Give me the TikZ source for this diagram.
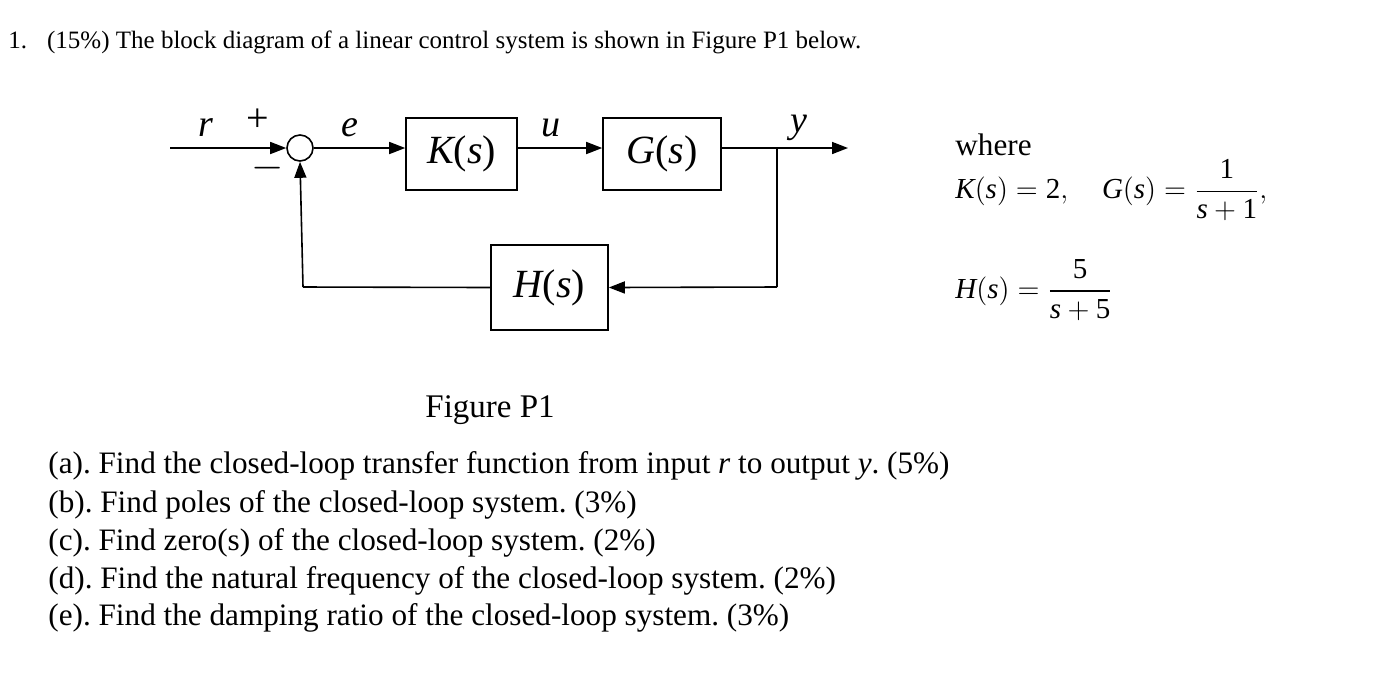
\documentclass[tikz,border=0pt]{standalone}
\usepackage{amsmath}
\usepackage{fontspec}
\setmainfont{Liberation Serif}
\usetikzlibrary{arrows.meta}
\newcommand{\iv}[1]{\text{\itshape #1}}
\frenchspacing
\begin{document}
\begin{tikzpicture}[x=0.5pt,y=-0.5pt,
  blk/.style={draw,line width=0.8pt,minimum width=56pt,minimum height=36pt,inner sep=0pt,font=\fontsize{20}{22}\selectfont},
  sig/.style={line width=0.8pt,-{Triangle[length=8pt,width=6pt]}},
  ln/.style={line width=0.8pt},
  lab/.style={font=\fontsize{19}{22}\selectfont\itshape},
  txt/.style={anchor=west,font=\fontsize{12.5}{14}\selectfont,inner sep=0pt},
  qtxt/.style={anchor=west,font=\fontsize{15.6}{18}\selectfont,inner sep=0pt}]
\useasboundingbox (0,0) rectangle (1374,682);
\node[txt] (title) at (8,42) {1.\hspace{0.8em}(15\%) The block diagram of a linear control system is shown in Figure P1 below.};
\coordinate (in) at (170,148);
\node[draw,circle,line width=0.8pt,minimum size=13pt,inner sep=0pt] (sum) at (300,148) {};
\node[blk,minimum width=55.5pt] (K) at (461.5,154) {\iv{K}(\iv{s})};
\node[blk,minimum width=59pt] (G) at (662,154) {\iv{G}(\iv{s})};
\node[blk,minimum width=58.5pt,minimum height=42.5pt] (H) at (549.5,287.5) {\iv{H}(\iv{s})};
\coordinate (out) at (848,148);
\coordinate (br) at (777,148);
\coordinate (c1) at (777,287);
\coordinate (c2) at (303,287);
\draw[sig] (in) -- (sum.west);
\draw[sig] (sum.east) -- (K.west |- sum.east);
\draw[sig] (K.east |- sum.east) -- (G.west |- sum.east);
\draw[sig] (G.east |- sum.east) -- (out);
\draw[ln] (br) -- (c1);
\draw[sig] (c1) -- (H.east);
\draw[ln] (H.west) -- (c2);
\draw[sig] (c2) -- (sum.south);
\node[lab] (r) at (206,128) {r};
\node[font=\fontsize{20}{22}\selectfont] (plus) at (258,120) {+};
\node[font=\fontsize{20}{22}\selectfont] (minus) at (268,168) {$-$};
\node[lab] (e) at (350,128) {e};
\node[lab] (u) at (551,128) {u};
\node[lab] (y) at (799,128) {y};
\node[qtxt,font=\fontsize{16.5}{18}\selectfont] (cap) at (425,410) {Figure P1};
\node[qtxt] (where) at (955,145) {where};
\node[qtxt,font=\fontsize{14.5}{17}\selectfont] (KG) at (955,190) {$\iv{K}(\iv{s}) = \text{2},\quad \iv{G}(\iv{s}) = \dfrac{\text{1}}{\iv{s}+\text{1}},$};
\node[qtxt,font=\fontsize{14.5}{17}\selectfont] (Hs) at (955,290) {$\iv{H}(\iv{s}) = \dfrac{\text{5}}{\iv{s}+\text{5}}$};
\node[qtxt] (qa) at (48,466) {(a). Find the closed-loop transfer function from input \textit{r} to output \textit{y}. (5\%)};
\node[qtxt] (qb) at (48,505) {(b). Find poles of the closed-loop system. (3\%)};
\node[qtxt] (qc) at (48,543) {(c). Find zero(s) of the closed-loop system. (2\%)};
\node[qtxt] (qd) at (48,581) {(d). Find the natural frequency of the closed-loop system. (2\%)};
\node[qtxt] (qe) at (48,618) {(e). Find the damping ratio of the closed-loop system. (3\%)};
\end{tikzpicture}
\end{document}
